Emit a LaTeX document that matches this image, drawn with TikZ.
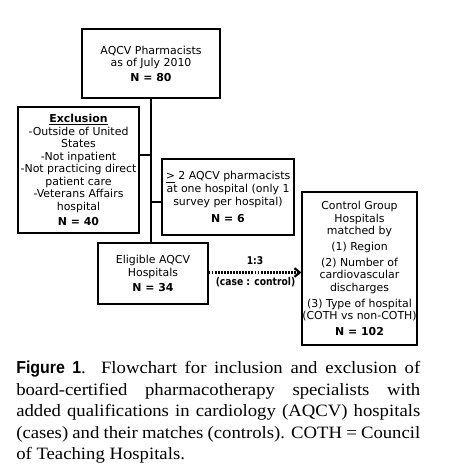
\documentclass[tikz,border=0pt]{standalone}
\usepackage{fontspec}
\setmainfont{DejaVu Sans}
\newfontfamily\capserif[FakeStretch=1.08]{Liberation Serif}
\newfontfamily\capsans[FakeStretch=0.92]{Liberation Sans}
\newfontfamily\lblfont[FakeStretch=0.86]{DejaVu Sans}
\usetikzlibrary{arrows.meta}
\tikzset{
  flowbox/.style={draw, line width=0.8pt, align=center, inner sep=0pt,
    font=\fontsize{8.2}{9.4}\selectfont},
  link/.style={draw, line width=0.8pt},
  ratio/.style={line width=1.6pt, dash pattern=on 1.4pt off 0.9pt,
    -{Straight Barb[length=4pt,width=6.5pt,line width=1.6pt]}},
  ratiolabel/.style={inner sep=0pt, font=\lblfont\bfseries\fontsize{8}{9}\selectfont},
  caption/.style={anchor=north west, inner sep=0pt, text width=303pt, align=justify,
    font=\capserif\fontsize{13}{16.1}\selectfont}
}
\begin{document}
\begin{tikzpicture}[x=0.75pt,y=-0.75pt]
\useasboundingbox (0,0) rectangle (455,470);
\node[flowbox, minimum width=103.5pt, minimum height=51.75pt] (top) at (151,63.5)
  {AQCV Pharmacists\\ as of July 2010\\[1.5pt] \textbf{N = 80}};
\node[flowbox, minimum width=90.75pt, minimum height=94.5pt] (excl) at (78.5,170)
  {\underline{\textbf{Exclusion}}\\ -Outside of United\\ States\\ -Not inpatient\\
   -Not practicing direct\\ patient care\\ -Veterans Affairs\\ hospital\\[2pt] \textbf{N = 40}};
\node[flowbox, minimum width=99pt, minimum height=57pt] (dup) at (228,197)
  {\underline{>} 2 AQCV pharmacists\\ at one hospital (only 1\\ survey per hospital)\\[3.5pt] \textbf{N = 6}};
\node[flowbox, minimum width=82.5pt, minimum height=45.75pt] (elig) at (153,273.5)
  {Eligible AQCV\\ Hospitals\\[2pt] \textbf{N = 34}};
\node[flowbox, minimum width=86.25pt, minimum height=114.75pt] (ctrl) at (359.5,268.5)
  {Control Group\\ Hospitals\\ matched by\\[2.5pt] (1) Region\\[2.5pt] (2) Number of\\
   cardiovascular\\ discharges\\[2.5pt] (3) Type of hospital\\ (COTH vs non-COTH)\\[2.5pt]
   \textbf{N = 102}};
\coordinate (b1) at (151,155);
\coordinate (b2) at (151,202);
\draw[link] (top.south) -- (top.south |- elig.north);
\draw[link] (b1) -- (b1 -| excl.east);
\draw[link] (b2) -- (b2 -| dup.west);
\coordinate (a1) at (208.5,272.5);
\draw[ratio] (a1) -- (a1 -| ctrl.west);
\node[ratiolabel, anchor=base] (r1) at (255,264) {1:3};
\node[ratiolabel, anchor=base] (r2) at (255.5,285.5) {(case : control)};
\node[caption] (cap) at (16,361)
  {{\capsans\bfseries Figure 1}. Flowchart for inclusion and exclusion of\linebreak
   board-certified pharmacotherapy specialists with\linebreak
   added qualifications in cardiology (AQCV) hospitals\linebreak
   (cases) and their matches (controls). COTH = Council\linebreak
   of Teaching Hospitals.};
\end{tikzpicture}
\end{document}
